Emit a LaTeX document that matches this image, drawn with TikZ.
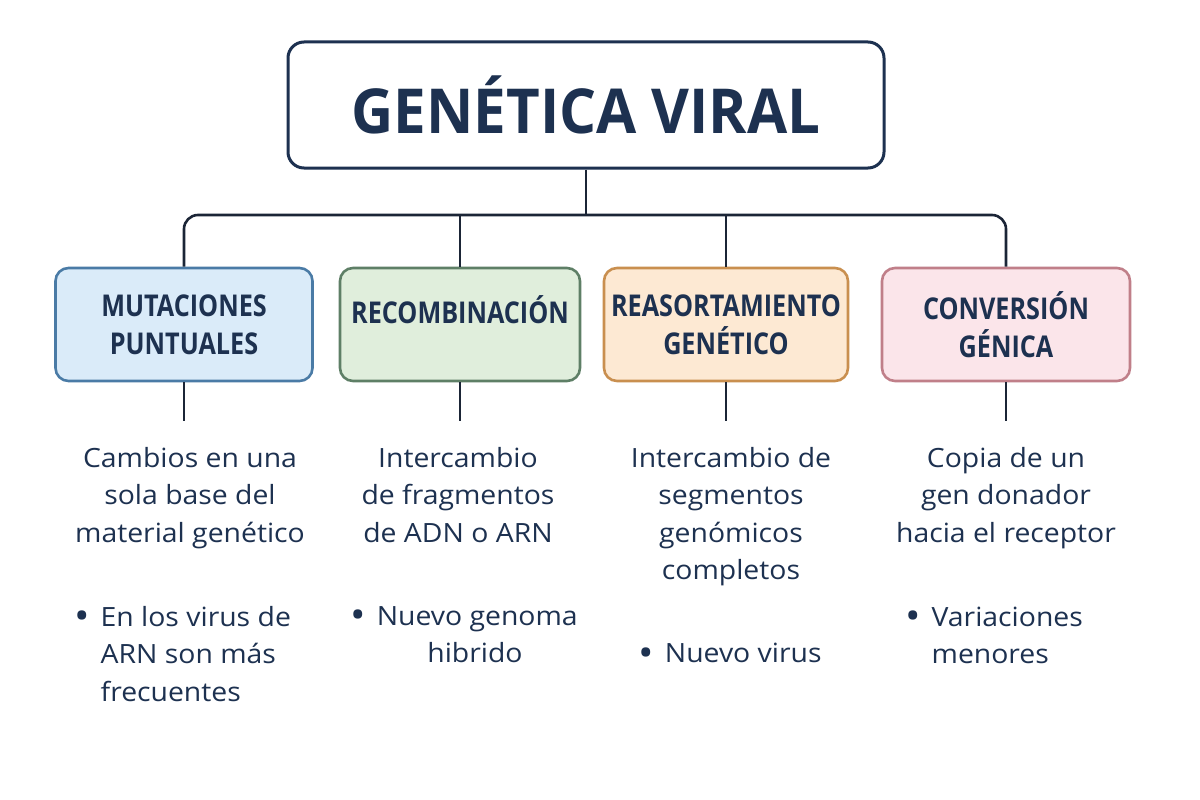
\documentclass[tikz,border=0pt]{standalone}
\usepackage{fontspec}
\usepackage{graphicx}
\setmainfont[FakeStretch=1.07]{Open Sans}
\newfontfamily\headfont[FakeStretch=0.84]{Open Sans}
\newfontfamily\titlefont[FakeStretch=0.94]{Open Sans}
\newcommand{\dotb}{\raisebox{-3.5pt}{\scalebox{1.45}{\textbullet}}}
\definecolor{navy}{HTML}{1D3150}
\definecolor{linecol}{HTML}{1B2536}
\definecolor{blueF}{HTML}{DAEBF9}\definecolor{blueD}{HTML}{4A7BA6}
\definecolor{greenF}{HTML}{E0EEDC}\definecolor{greenD}{HTML}{5E7F66}
\definecolor{orangeF}{HTML}{FDE9D3}\definecolor{orangeD}{HTML}{C98F4F}
\definecolor{pinkF}{HTML}{FBE5EA}\definecolor{pinkD}{HTML}{C07F89}
\begin{document}
\begin{tikzpicture}[x=1pt, y=-1pt,
    catbox/.style={draw, rounded corners=13pt, line width=2.6pt, minimum height=113pt,
        align=center, text=navy, font=\headfont\bfseries\fontsize{30}{38}\selectfont},
    conn/.style={draw=linecol, line width=2.6pt},
    desc/.style={align=center, text=navy, inner sep=0pt, anchor=north,
        font=\fontsize{26.5}{37.5}\selectfont},
    bul/.style={text=navy, inner sep=0pt, font=\fontsize{26.5}{37.5}\selectfont}]
    % 背景与边界
    \fill[white] (0,0) rectangle (1200,800);
    \useasboundingbox (0,0) rectangle (1200,800);

    % 标题
    \node[draw=navy, line width=3pt, rounded corners=16pt, minimum width=596pt,
        minimum height=126pt, text=navy, font=\titlefont\bfseries\fontsize{62}{62}\selectfont]
        (title) at (586,105) {GENÉTICA VIRAL};

    % 四个分类
    \node[catbox, fill=blueF, draw=blueD, minimum width=257pt] (mut) at (184,324.5)
        {MUTACIONES\\PUNTUALES};
    \node[catbox, fill=greenF, draw=greenD, minimum width=240pt] (rec) at (460,324.5)
        {RECOMBINACIÓN\\[-20pt]\strut};
    \node[catbox, fill=orangeF, draw=orangeD, minimum width=244pt] (rea) at (726,324.5)
        {REASORTAMIENTO\\GENÉTICO};
    \node[catbox, fill=pinkF, draw=pinkD, minimum width=248pt] (con) at (1006,324.5)
        {CONVERSIÓN\\GÉNICA};

    % 连线
    \coordinate (bus) at (586,215);
    \draw[conn] (title.south) -- (bus);
    \draw[conn, rounded corners=14pt] (mut.north) |- (bus) -| (con.north);
    \draw[conn] (rec.north) -- (rec.north |- bus);
    \draw[conn] (rea.north) -- (rea.north |- bus);
    \foreach \n in {mut,rec,rea,con}
        \draw[conn] (\n.south) -- ++(0,39);

    % 说明文字
    \node[desc] (dmut) at (190,447) {Cambios en una\\sola base del\\material genético};
    \node[desc] (drec) at (458,447) {Intercambio\\de fragmentos\\de ADN o ARN};
    \node[desc] (drea) at (731,447) {Intercambio de\\segmentos\\genómicos\\completos};
    \node[desc] (dcon) at (1006,447) {Copia de un\\gen donador\\hacia el receptor};

    % 要点
    \node[bul, anchor=north west] (bmut) at (74,600)
        {\begin{tabular}{@{}l@{\hspace{11pt}}l@{}}\dotb & En los virus de\\
        & ARN son más\\ & frecuentes\end{tabular}};
    \node[bul, align=center, anchor=north] (brec) at (464,606)
        {\dotb\hspace{11pt}Nuevo genoma\\\hspace{22pt}hibrido};
    \node[bul, anchor=north] (brea) at (730,643) {\dotb\hspace{11pt}Nuevo virus};
    \node[bul, anchor=north west] (bcon) at (905,600)
        {\begin{tabular}{@{}l@{\hspace{11pt}}l@{}}\dotb & Variaciones\\
        & menores\end{tabular}};
\end{tikzpicture}
\end{document}
